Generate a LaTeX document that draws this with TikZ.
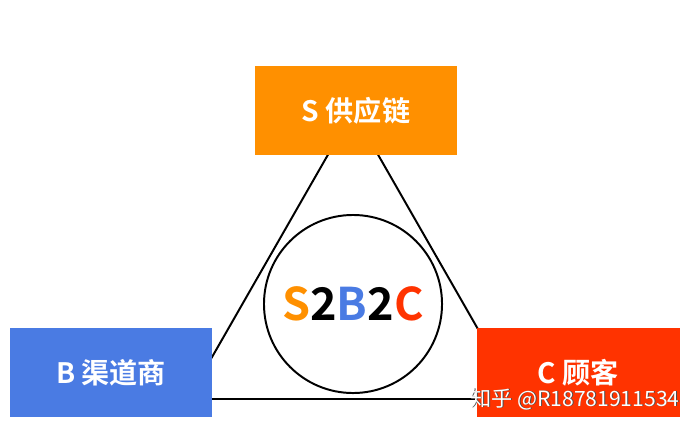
\documentclass[tikz,border=0pt]{standalone}
\usepackage{fontspec}
\setmainfont{Noto Sans CJK SC}[BoldFont={Noto Sans CJK SC Bold}]
\usetikzlibrary{positioning}
\definecolor{sorange}{HTML}{FF9000}
\definecolor{bblue}{HTML}{4A7BE3}
\definecolor{cred}{HTML}{FF3300}
\tikzset{>=latex,
  partbox/.style={minimum width=5.05cm,minimum height=2.225cm,inner sep=0pt,
    text=white,font=\fontsize{20}{24}\selectfont\bfseries},
  edge/.style={line width=1.4pt}
}

\begin{document}
\begin{tikzpicture}[x=0.025cm,y=-0.025cm]
    \useasboundingbox (0,0) rectangle (694,426);
    \coordinate (apex) at (353,111);
    \coordinate (bl) at (188,399);
    \coordinate (br) at (518,399);
    \draw[edge] (apex) -- (bl) -- (br) -- cycle;
    \node[circle,draw,line width=1.4pt,fill=white,minimum size=4.45cm,inner sep=0pt,
      font=\fontsize{32}{38}\selectfont\bfseries] (hub) at (353,304)
      {\textcolor{sorange}{S}2\textcolor{bblue}{B}2\textcolor{cred}{C}};
    \node[partbox,fill=sorange] (S) at (356,110.5) {S 供应链};
    \node[partbox,fill=bblue] (B) at (111,372.5) {B 渠道商};
    \node[partbox,fill=cred] (C) at (578.5,372.5) {C 顾客};
    % watermark
    \node[text=black!70,font=\fontsize{15}{18}\selectfont] at (575.8,399.8) {知乎 @R18781911534};
    \node[text=white,font=\fontsize{15}{18}\selectfont] (mark) at (575,399) {知乎 @R18781911534};
\end{tikzpicture}
\end{document}
